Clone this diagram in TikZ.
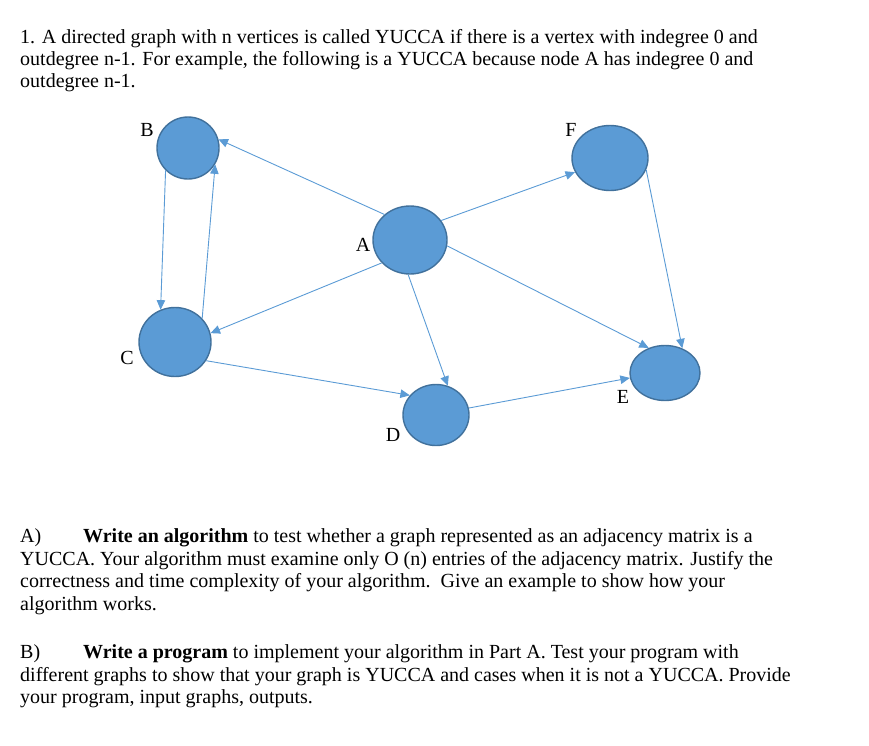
\documentclass[tikz,border=0pt]{standalone}
\usepackage{fontspec}
\setmainfont{Liberation Serif}
\usetikzlibrary{arrows.meta,shapes.geometric}
\definecolor{vfill}{HTML}{5B9BD5}
\definecolor{vdraw}{HTML}{41719C}
\definecolor{efill}{HTML}{5B9BD5}
\tikzset{
  vertex/.style={ellipse, draw=vdraw, fill=vfill, line width=1.4pt, inner sep=0pt},
  arc/.style={draw=efill, line width=0.9pt, -{Triangle[length=9.5pt,width=8.5pt]}},
  vlabel/.style={inner sep=0pt, font=\fontsize{20}{22}\selectfont},
  txt/.style={anchor=base west, inner sep=0pt, font=\fontsize{20}{22}\selectfont}
}
\begin{document}
\begin{tikzpicture}[x=1pt,y=-1pt]
  \useasboundingbox (0,0) rectangle (869,745);
  % question text
  \node[txt] (q1) at (20,43) {1. A directed graph with n vertices is called YUCCA if there is a vertex with indegree 0 and};
  \node[txt] (q2) at (20,65) {outdegree n-1. For example, the following is a YUCCA because node A has indegree 0 and};
  \node[txt] (q3) at (20,87) {outdegree n-1.};

  % the graph
  \node[vertex, minimum width=74pt, minimum height=68pt] (A) at (410,240) {};
  \node[vertex, minimum width=62pt, minimum height=62pt] (B) at (188,148) {};
  \node[vertex, minimum width=72pt, minimum height=69pt] (C) at (175,342) {};
  \node[vertex, minimum width=66pt, minimum height=61pt] (D) at (436,415) {};
  \node[vertex, minimum width=70pt, minimum height=55pt] (E) at (665,373) {};
  \node[vertex, minimum width=76pt, minimum height=65pt] (F) at (610,158) {};

  \node[vlabel] (lA) at (363,245) {A};
  \node[vlabel] (lB) at (147,130) {B};
  \node[vlabel] (lC) at (127,358) {C};
  \node[vlabel] (lD) at (393,435) {D};
  \node[vlabel] (lE) at (623,397) {E};
  \node[vlabel] (lF) at (571,130) {F};

  \draw[arc] (A.135) -- (B.16);
  \draw[arc] (B.225) -- (C.114);
  \draw[arc] (C.41) -- (B.329);
  \draw[arc] (A.219) -- (C.14);
  \draw[arc] (A.267) -- (D.68);
  \draw[arc] (A.32) -- (F.202);
  \draw[arc] (A.351) -- (E.123);
  \draw[arc] (F.342) -- (E.55);
  \draw[arc] (C.329) -- (D.143);
  \draw[arc] (D.12) -- (E.188);

  % part A
  \node[txt] (a1) at (20,542) {\makebox[63pt][l]{A)}\textbf{Write an algorithm} to test whether a graph represented as an adjacency matrix is a};
  \node[txt] (a2) at (20,565) {YUCCA. Your algorithm must examine only O (n) entries of the adjacency matrix. Justify the};
  \node[txt] (a3) at (20,587) {correctness and time complexity of your algorithm.\ \ Give an example to show how your};
  \node[txt] (a4) at (20,610) {algorithm works.};

  % part B
  \node[txt] (b1) at (20,658) {\makebox[63pt][l]{B)}\textbf{Write a program} to implement your algorithm in Part A. Test your program with};
  \node[txt] (b2) at (20,681) {different graphs to show that your graph is YUCCA and cases when it is not a YUCCA. Provide};
  \node[txt] (b3) at (20,703) {your program, input graphs, outputs.};
\end{tikzpicture}
\end{document}
